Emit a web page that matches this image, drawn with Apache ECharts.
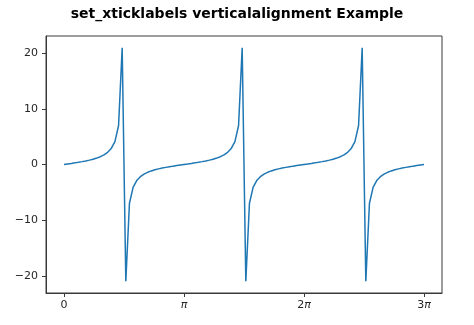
<!DOCTYPE html>
<html>
<head>
<meta charset="utf-8">
<script src="https://cdn.jsdelivr.net/npm/echarts@6/dist/echarts.min.js"></script>
<style>
html,body{margin:0;padding:0;background:#fff;}
#c{width:474px;height:325px;}
</style>
</head>
<body>
<div id="c"></div>
<script>
var titleText = 'set_xticklabels verticalalignment Example';

var xValues = [
0,0.0952,0.1904,0.2856,0.3808,0.4760,0.5712,0.6664,0.7616,0.8568,
0.9520,1.0472,1.1424,1.2376,1.3328,1.4280,1.5232,1.6184,1.7136,1.8088,
1.9040,1.9992,2.0944,2.1896,2.2848,2.3800,2.4752,2.5704,2.6656,2.7608,
2.8560,2.9512,3.0464,3.1416,3.2368,3.3320,3.4272,3.5224,3.6176,3.7128,
3.8080,3.9032,3.9984,4.0936,4.1888,4.2840,4.3792,4.4744,4.5696,4.6648,
4.7600,4.8552,4.9504,5.0456,5.1408,5.2360,5.3312,5.4264,5.5216,5.6168,
5.7120,5.8072,5.9024,5.9976,6.0928,6.1880,6.2832,6.3784,6.4736,6.5688,
6.6640,6.7592,6.8544,6.9496,7.0448,7.1400,7.2352,7.3304,7.4256,7.5208,
7.6160,7.7112,7.8064,7.9016,7.9968,8.0920,8.1872,8.2824,8.3776,8.4728,
8.5680,8.6632,8.7584,8.8536,8.9488,9.0440,9.1392,9.2344,9.3296,9.4248
];

var yValues = [
0,0.0955,0.1927,0.2936,0.4004,0.5155,0.6426,0.7864,0.9535,1.1541,
1.4042,1.7321,2.1897,2.8893,4.1220,6.9552,20.993,-20.993,-6.9552,-4.1220,
-2.8893,-2.1897,-1.7321,-1.4042,-1.1541,-0.9535,-0.7864,-0.6426,-0.5155,-0.4004,
-0.2936,-0.1927,-0.0955,
0,0.0955,0.1927,0.2936,0.4004,0.5155,0.6426,0.7864,0.9535,1.1541,
1.4042,1.7321,2.1897,2.8893,4.1220,6.9552,20.993,-20.993,-6.9552,-4.1220,
-2.8893,-2.1897,-1.7321,-1.4042,-1.1541,-0.9535,-0.7864,-0.6426,-0.5155,-0.4004,
-0.2936,-0.1927,-0.0955,
0,0.0955,0.1927,0.2936,0.4004,0.5155,0.6426,0.7864,0.9535,1.1541,
1.4042,1.7321,2.1897,2.8893,4.1220,6.9552,20.993,-20.993,-6.9552,-4.1220,
-2.8893,-2.1897,-1.7321,-1.4042,-1.1541,-0.9535,-0.7864,-0.6426,-0.5155,-0.4004,
-0.2936,-0.1927,-0.0955,
0
];

var xTickValues = [0, 3.14159, 6.28319, 9.42478];
var xTickLabels = [['0',''], ['','π'], ['2','π'], ['3','π']];
var yTickValues = [-20, -10, 0, 10, 20];
var yTickLabels = ['\u221220', '\u221210', '0', '10', '20'];

var data = xValues.map(function (x, i) { return [x, yValues[i]]; });

function nearestIndex(arr, v) {
  var best = 0;
  for (var i = 1; i < arr.length; i++) {
    if (Math.abs(arr[i] - v) < Math.abs(arr[best] - v)) best = i;
  }
  return best;
}

var chart = echarts.init(document.getElementById('c'), null, {renderer: 'canvas'});
chart.setOption({
  animation: false,
  backgroundColor: '#ffffff',
  title: {
    text: titleText,
    left: 232,
    textAlign: 'center',
    top: 2,
    textStyle: {
      fontFamily: 'DejaVu Sans',
      fontWeight: 'bold',
      fontSize: 14,
      color: '#000'
    }
  },
  grid: {
    left: 46, right: 32, top: 36, bottom: 32,
    show: true,
    borderColor: '#3a3a3a',
    borderWidth: 1,
    backgroundColor: 'transparent'
  },
  xAxis: {
    type: 'value',
    min: -0.4712,
    max: 9.8960,
    splitLine: {show: false},
    axisLine: {show: true, onZero: false, lineStyle: {color: '#3a3a3a', width: 1}},
    axisTick: {show: true, length: 4, customValues: xTickValues, lineStyle: {color: '#3a3a3a', width: 1}},
    axisLabel: {
      customValues: xTickValues,
      margin: 7,
      fontFamily: 'DejaVu Sans',
      fontSize: 11,
      color: '#262626',
      formatter: function (v) {
        var p = xTickLabels[nearestIndex(xTickValues, v)];
        var s = '';
        if (p[0]) s += '{n|' + p[0] + '}';
        if (p[1]) s += '{i|' + p[1] + '}';
        return s;
      },
      rich: {
        n: {fontFamily: 'DejaVu Sans', fontSize: 11, color: '#262626'},
        i: {fontFamily: 'DejaVu Sans', fontStyle: 'italic', fontSize: 11, color: '#262626'}
      }
    }
  },
  yAxis: {
    type: 'value',
    min: -23.09,
    max: 23.09,
    splitLine: {show: false},
    axisLine: {show: true, onZero: false, lineStyle: {color: '#3a3a3a', width: 1}},
    axisTick: {show: true, length: 4, customValues: yTickValues, lineStyle: {color: '#3a3a3a', width: 1}},
    axisLabel: {
      customValues: yTickValues,
      margin: 8,
      fontFamily: 'DejaVu Sans',
      fontSize: 11,
      color: '#262626',
      formatter: function (v) {
        return yTickLabels[nearestIndex(yTickValues, v)];
      }
    }
  },
  series: [{
    type: 'line',
    data: data,
    showSymbol: false,
    symbol: 'none',
    smooth: false,
    lineStyle: {color: '#1f77b4', width: 1.5},
    itemStyle: {color: '#1f77b4'}
  }]
});
</script>
</body>
</html>
